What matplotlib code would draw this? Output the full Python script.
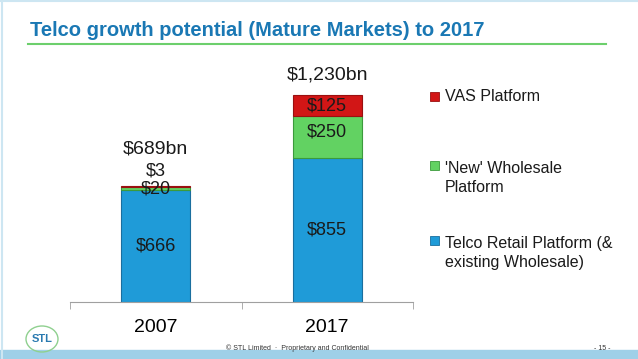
import numpy as np
import matplotlib.pyplot as plt
from matplotlib.patches import Rectangle, Ellipse

years = ["2007", "2017"]
retail = [666, 855]
wholesale = [20, 250]
vas = [3, 125]
totals = ["$689bn", "$1,230bn"]
series_names = ["Telco Retail Platform (&\nexisting Wholesale)",
                "'New' Wholesale\nPlatform", "VAS Platform"]

W, H = 638, 359
fig = plt.figure(figsize=(W / 100, H / 100), dpi=100)
plt.rcParams['font.family'] = ['Liberation Sans', 'DejaVu Sans']

def px(x, y):
    return x / W, 1 - y / H

# slide frame
fig.patches.append(Rectangle((0, 0), 1, 9 / H, transform=fig.transFigure,
                             color="#9fd0e8", zorder=0))
fig.add_artist(plt.Line2D([0.003, 0.003], [0, 1], transform=fig.transFigure,
                          color="#cde6f2", lw=1.5))
fig.add_artist(plt.Line2D([0, 1], [0.997, 0.997], transform=fig.transFigure,
                          color="#cde6f2", lw=1.5))

# title
fig.text(*px(30, 30), "Telco growth potential (Mature Markets) to 2017",
         fontsize=14.5, fontweight="bold", color="#1a78b4", va="center")
x0, y0 = px(28, 44)
x1, _ = px(606, 44)
fig.add_artist(plt.Line2D([x0, x1], [y0, y0], transform=fig.transFigure,
                          color="#6ccf6c", lw=1.5))

ax = fig.add_axes([70 / W, 1 - 302 / H, 343 / W, 252 / H])
x = np.arange(len(years))
bw = 0.4
b1 = ax.bar(x, retail, bw, color="#1f9bd8", edgecolor="#1a6e9e", lw=0.8)
b2 = ax.bar(x, wholesale, bw, bottom=retail, color="#62d262",
            edgecolor="#3c9a3c", lw=0.8)
bot3 = np.add(retail, wholesale)
b3 = ax.bar(x, vas, bw, bottom=bot3, color="#d21616", edgecolor="#9a1010", lw=0.8)

ax.set_xlim(-0.5, 1.5)
ax.set_ylim(0, 1500)
for s in ["top", "left", "right"]:
    ax.spines[s].set_visible(False)
ax.spines["bottom"].set_color("#a0a0a0")
ax.set_yticks([])
ax.set_xticks(x)
ax.set_xticklabels(years, fontsize=14)
ax.tick_params(axis="x", length=0, pad=12)
ax.set_xticks([-0.5, 0.5, 1.5], minor=True)
ax.tick_params(axis="x", which="minor", length=5, color="#a0a0a0", direction="out")

lab = dict(ha="center", va="center", fontsize=13, color="#1a1a1a")
# large segments: centred
ax.text(x[0], retail[0] / 2, f"${retail[0]}", **lab)
ax.text(x[1], retail[1] / 2, f"${retail[1]}", **lab)
ax.text(x[1], retail[1] + wholesale[1] / 2 + 30, f"${wholesale[1]}", **lab)
ax.text(x[1], bot3[1] + vas[1] / 2, f"${vas[1]}", **lab)
# small segments on 2007
top0 = bot3[0] + vas[0]
ax.annotate(f"${wholesale[0]}", (x[0], top0), xytext=(0, -2),
            textcoords="offset points", **lab)
ax.annotate(f"${vas[0]}", (x[0], top0), xytext=(0, 11),
            textcoords="offset points", **lab)
# totals
ax.annotate(totals[0], (x[0], top0), xytext=(0, 27),
            textcoords="offset points", ha="center", va="center",
            fontsize=14, color="#1a1a1a")
ax.annotate(totals[1], (x[1], bot3[1] + vas[1]), xytext=(0, 15),
            textcoords="offset points", ha="center", va="center",
            fontsize=14, color="#1a1a1a")

# legend
leg_items = [(b3, series_names[2], 97), (b2, series_names[1], 178),
             (b1, series_names[0], 253)]
for bars, name, yy in leg_items:
    p = bars.patches[0]
    fx, fy = px(430, yy - 12 if "\n" in name else yy)
    fig.patches.append(Rectangle((fx, fy - 4 / H), 9 / W, 9 / H,
                                 transform=fig.transFigure,
                                 facecolor=p.get_facecolor(),
                                 edgecolor=p.get_edgecolor(), lw=0.6))
    tx, ty = px(445, yy)
    fig.text(tx, ty, name, fontsize=11.5, color="#1a1a1a", va="center",
             linespacing=1.4)

# footer
fig.text(*px(297, 348), "\u00a9 STL Limited  \u00b7  Proprietary and Confidential",
         fontsize=5, ha="center", va="center", color="#333333")
fig.text(*px(602, 348), "- 15 -", fontsize=5, ha="center", va="center",
         color="#333333")
ex, ey = px(42, 339)
fig.patches.append(Ellipse((ex, ey), 32 / W, 26 / H, transform=fig.transFigure,
                           fill=False, edgecolor="#8fd08f", lw=1))
fig.text(ex, ey, "STL", fontsize=8, fontweight="bold", color="#2a7ab0",
         ha="center", va="center")

fig.savefig("out.png", dpi=100)
